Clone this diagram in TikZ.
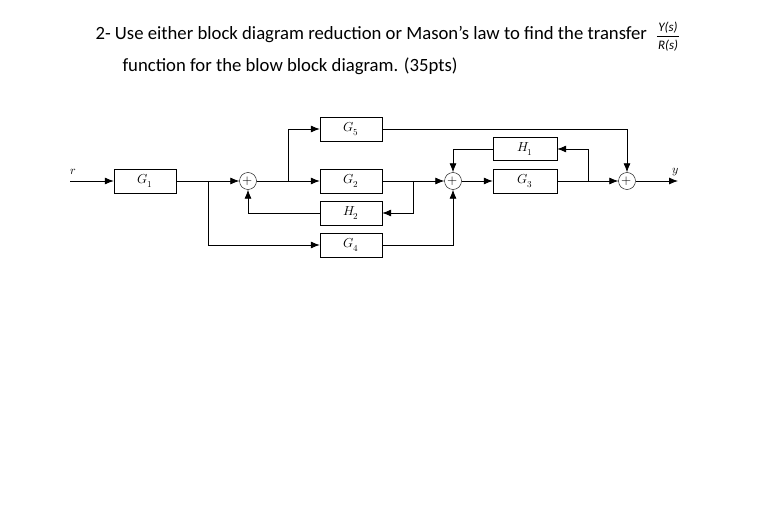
\documentclass[tikz,border=0pt]{standalone}
\usepackage{fontspec}
\setmainfont{Carlito}
\usepackage{unicode-math}
\setmathfont{Latin Modern Math}
\usetikzlibrary{arrows.meta}
\begin{document}
\begin{tikzpicture}[x=1pt,y=-1pt,
  blk/.style={draw,minimum width=62pt,minimum height=24pt,inner sep=0pt,font=\fontsize{13}{15}\selectfont},
  sumj/.style={draw,circle,minimum size=17pt,inner sep=0pt,font=\fontsize{13}{15}\selectfont},
  ar/.style={-{Latex[length=9pt,width=7pt]},thick},
  frac/.style={inner sep=0pt,font=\fontsize{13}{14}\selectfont\itshape}]
\useasboundingbox (0,0) rectangle (777,508);
\node[anchor=base west,font=\fontsize{18.7}{22}\selectfont] (t1) at (92,40) {2- Use either block diagram reduction or Mason’s law to find the transfer};
\node[frac,anchor=base] (num) at (668,32) {Y(s)};
\node[frac,anchor=base] (den) at (668,50) {R(s)};
\draw[thin] ([xshift=-1pt]den.west |- 0,36.5) -- ([xshift=1pt]den.east |- 0,36.5);
\node[anchor=base west,font=\fontsize{18.7}{22}\selectfont] (t2) at (119,72) {function for the blow block diagram. (35pts)};

\node[blk] (G1) at (145,181) {$G_1$};
\node[blk] (G5) at (351,129) {$G_5$};
\node[blk] (G2) at (351,181) {$G_2$};
\node[blk] (H2) at (351,213) {$H_2$};
\node[blk] (G4) at (351,245) {$G_4$};
\node[blk,minimum width=64pt,minimum height=23pt] (H1) at (525,149) {$H_1$};
\node[blk,minimum width=64pt] (G3) at (525,181) {$G_3$};
\node[sumj] (S1) at (248,181) {$+$};
\node[sumj] (S2) at (453,181) {$+$};
\node[sumj] (S3) at (627,181) {$+$};
\coordinate (rin) at (70,181);
\coordinate (yout) at (678,181);
\node[font=\fontsize{12}{14}\selectfont] (rl) at (73,172) {$r$};
\node[font=\fontsize{12}{14}\selectfont] (yl) at (676,172) {$y$};
\coordinate (b1) at (208,181);
\coordinate (b2) at (288,181);
\coordinate (b3) at (413,181);
\coordinate (b4) at (588,181);

\draw[ar] (rin) -- (G1);
\draw[ar] (G1) -- (S1);
\draw[ar] (S1) -- (G2);
\draw[ar] (b2) |- (G5);
\draw[ar] (b1) |- (G4);
\draw[ar] (H2) -| (S1);
\draw[ar] (b3) |- (H2);
\draw[ar] (G2) -- (S2);
\draw[ar] (G4) -| (S2);
\draw[ar] (H1) -| (S2);
\draw[ar] (S2) -- (G3);
\draw[ar] (b4) |- (H1);
\draw[ar] (G3) -- (S3);
\draw[ar] (G5) -| (S3);
\draw[ar] (S3) -- (yout);
\end{tikzpicture}
\end{document}
